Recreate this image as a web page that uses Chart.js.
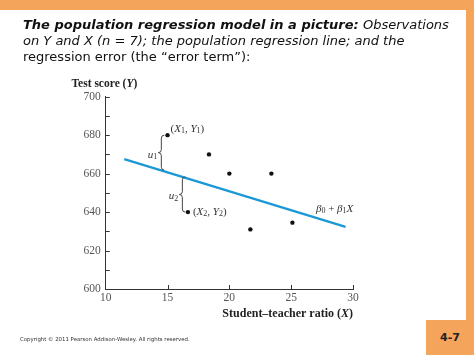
<!DOCTYPE html>
<html>
<head>
<meta charset="utf-8">
<script src="https://cdn.jsdelivr.net/npm/chart.js@4.4.1/dist/chart.umd.min.js"></script>
<style>
  html, body { margin:0; padding:0; background:#fff; }
  #wrap { position:relative; width:474px; height:355px; overflow:hidden; }
  canvas { position:absolute; left:0; top:0; }
  .orange { position:absolute; background:#F4A55B; }
  #head { position:absolute; left:23px; top:16.6px; font-family:"DejaVu Sans", Verdana, sans-serif; font-size:13px; line-height:16.3px; color:#111; white-space:nowrap; }
  #copy { position:absolute; left:20px; top:336px; font-family:"DejaVu Sans", sans-serif; font-size:5.4px; color:#333; white-space:nowrap; }
  #pg { position:absolute; left:426px; top:320px; width:48px; height:35px; line-height:35px; text-align:center; font-family:"DejaVu Sans", sans-serif; font-weight:bold; font-size:11px; color:#222; }
</style>
</head>
<body>
<div id="wrap">
  <canvas id="c" width="474" height="355"></canvas>
  <div class="orange" style="left:0;top:0;width:474px;height:10px;"></div>
  <div class="orange" style="left:466px;top:0;width:8px;height:320px;"></div>
  <div class="orange" style="left:426px;top:320px;width:48px;height:35px;"></div>
  <div id="head"><b><i>The population regression model in a picture:</i></b> <i>Observations</i><br><i>on Y and X (n = 7); the population regression line; and the</i><br>regression error (the “error term”):</div>
  <div id="copy">Copyright © 2011 Pearson Addison-Wesley. All rights reserved.</div>
  <div id="pg">4-7</div>
</div>
<script>
// ---- data ----
const obsX = [15, 18.35, 20, 23.4, 16.65, 21.7, 25.1];
const obsY = [680, 670, 660, 660, 640, 631, 634.5];
const lineX = [11.5, 29.4];
const lineY = [667.5, 632.3];
const xTickMarks = [15, 20, 25, 30];
const yTickMarks = [610, 620, 630, 640, 650, 660, 670, 680, 690, 700];
const xTitle = 'Student–teacher ratio';
const yTitle = 'Test score';
// error braces: x position, observation Y, regression-line Y at that x
const braceX = [14.5, 16.2];
const braceObsY = [680, 640];
const braceLineY = [661.8, 658.3];
const braceNames = ['u', 'u'];
const braceSubs = ['1', '2'];

const SERIF = '"Liberation Serif", "Times New Roman", serif';

function drawRich(ctx, x, y, parts, align) {
  let total = 0;
  parts.forEach(p => { ctx.font = p[1]; total += ctx.measureText(p[0]).width; });
  let cx = align === 'right' ? x - total : x;
  ctx.textBaseline = 'middle';
  ctx.textAlign = 'left';
  parts.forEach(p => { ctx.font = p[1]; ctx.fillText(p[0], cx, y + (p[2] || 0)); cx += ctx.measureText(p[0]).width; });
}

function brace(ctx, x, yTop, yBot, w) {
  const mid = (yTop + yBot) / 2, r = w;
  ctx.beginPath();
  ctx.moveTo(x + w, yTop);
  ctx.quadraticCurveTo(x, yTop, x, yTop + r);
  ctx.lineTo(x, mid - r);
  ctx.quadraticCurveTo(x, mid, x - w, mid);
  ctx.quadraticCurveTo(x, mid, x, mid + r);
  ctx.lineTo(x, yBot - r);
  ctx.quadraticCurveTo(x, yBot, x + w, yBot);
  ctx.stroke();
  return mid;
}

const overlay = {
  id: 'overlay',
  afterDraw(chart) {
    const ctx = chart.ctx, xs = chart.scales.x, ys = chart.scales.y;
    const ca = chart.chartArea;
    ctx.save();
    ctx.strokeStyle = '#333'; ctx.lineWidth = 1;
    ctx.beginPath();
    yTickMarks.forEach(v => { const py = Math.round(ys.getPixelForValue(v)) + 0.5; ctx.moveTo(ca.left, py); ctx.lineTo(ca.left + 4, py); });
    xTickMarks.forEach(v => { const px = Math.round(xs.getPixelForValue(v)) + 0.5; ctx.moveTo(px, ca.bottom); ctx.lineTo(px, ca.bottom - 4); });
    ctx.stroke();

    ctx.strokeStyle = '#444'; ctx.lineWidth = 1;
    ctx.fillStyle = '#333';
    braceX.forEach((bx, i) => {
      const px = xs.getPixelForValue(bx);
      const y1 = ys.getPixelForValue(Math.max(braceObsY[i], braceLineY[i]));
      const y2 = ys.getPixelForValue(Math.min(braceObsY[i], braceLineY[i]));
      const mid = brace(ctx, px, y1, y2, 3);
      drawRich(ctx, px - 4, mid + 2, [[braceNames[i], 'italic 11px ' + SERIF, 0], [braceSubs[i], '8px ' + SERIF, 2]], 'right');
    });

    const p1x = xs.getPixelForValue(obsX[0]) + 3, p1y = ys.getPixelForValue(obsY[0]) - 6;
    drawRich(ctx, p1x, p1y, [['(', '11px ' + SERIF], ['X', 'italic 11px ' + SERIF], ['1', '8px ' + SERIF, 2], [', ', '11px ' + SERIF], ['Y', 'italic 11px ' + SERIF], ['1', '8px ' + SERIF, 2], [')', '11px ' + SERIF]]);
    const p2x = xs.getPixelForValue(obsX[4]) + 5, p2y = ys.getPixelForValue(obsY[4]);
    drawRich(ctx, p2x, p2y, [['(', '11px ' + SERIF], ['X', 'italic 11px ' + SERIF], ['2', '8px ' + SERIF, 2], [', ', '11px ' + SERIF], ['Y', 'italic 11px ' + SERIF], ['2', '8px ' + SERIF, 2], [')', '11px ' + SERIF]]);
    drawRich(ctx, xs.getPixelForValue(27.0), ys.getPixelForValue(641.5), [['β', 'italic 11px ' + SERIF], ['0', '8px ' + SERIF, 2], [' + ', '11px ' + SERIF], ['β', 'italic 11px ' + SERIF], ['1', '8px ' + SERIF, 2], ['X', 'italic 11px ' + SERIF]]);

    ctx.fillStyle = '#222';
    drawRich(ctx, ca.right, 314, [[xTitle + ' (', 'bold 12px ' + SERIF], ['X', 'bold italic 12px ' + SERIF], [')', 'bold 12px ' + SERIF]], 'right');
    drawRich(ctx, 71.5, 84.5, [[yTitle + ' (', 'bold 11.5px ' + SERIF], ['Y', 'bold italic 11.5px ' + SERIF], [')', 'bold 11.5px ' + SERIF]]);
    ctx.restore();
  }
};

new Chart(document.getElementById('c'), {
  type: 'scatter',
  data: {
    datasets: [
      { type: 'line', data: lineX.map((x, i) => ({ x, y: lineY[i] })), borderColor: '#1B98D6', borderWidth: 2.3, pointRadius: 0, fill: false },
      { data: obsX.map((x, i) => ({ x, y: obsY[i] })), backgroundColor: '#111', borderColor: '#111', pointRadius: 2.2, borderWidth: 0 }
    ]
  },
  options: {
    responsive: false, animation: false, devicePixelRatio: 1,
    layout: { padding: { left: 0, top: 96.7, right: 121, bottom: 0 } },
    plugins: { legend: { display: false }, tooltip: { enabled: false } },
    scales: {
      x: {
        type: 'linear', min: 10, max: 30,
        grid: { display: false, drawTicks: false },
        border: { display: true, color: '#333', width: 1 },
        ticks: { stepSize: 5, padding: 2, color: '#555', font: { family: SERIF, size: 11.5 } },
        afterFit: s => { s.height = 66; }
      },
      y: {
        min: 600, max: 700,
        grid: { display: false, drawTicks: false },
        border: { display: true, color: '#333', width: 1 },
        ticks: { stepSize: 20, padding: 5, color: '#555', font: { family: SERIF, size: 11.5 } },
        afterFit: s => { s.width = 105.7; }
      }
    }
  },
  plugins: [overlay]
});
</script>
</body>
</html>
